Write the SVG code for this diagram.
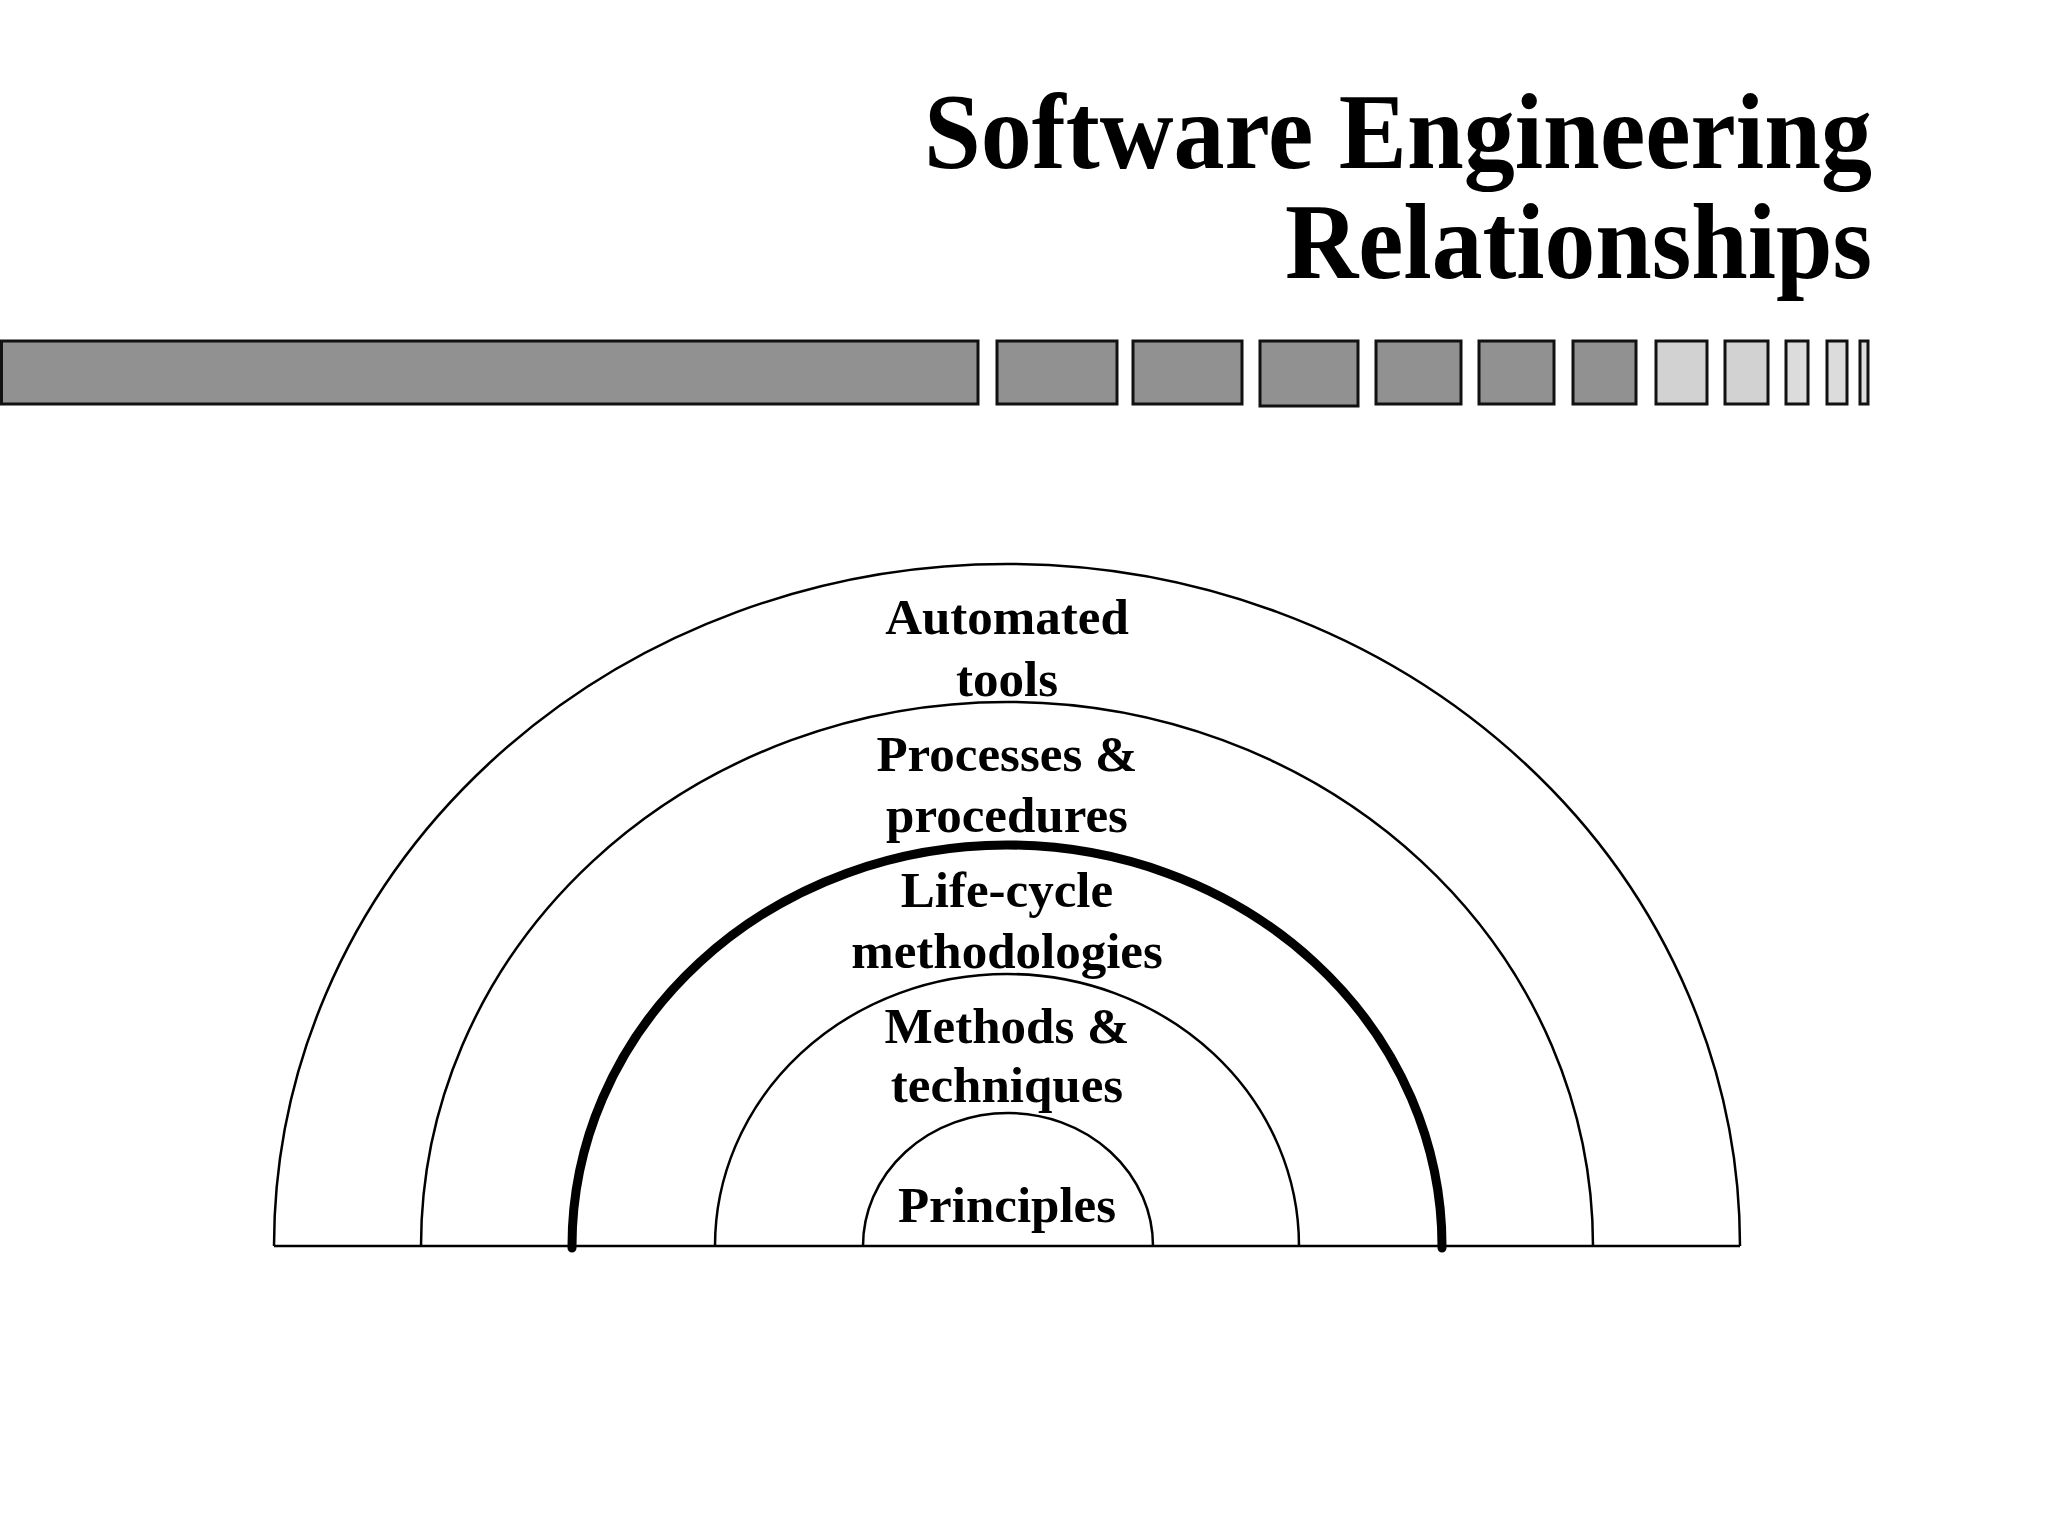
<svg xmlns="http://www.w3.org/2000/svg" width="2048" height="1536" viewBox="0 0 2048 1536">
<style>
.title{font-family:"Liberation Serif","Times New Roman",serif;font-weight:bold;font-size:107px;fill:#000;text-anchor:end}
.lbl{font-family:"Liberation Serif","Times New Roman",serif;font-weight:bold;font-size:51px;fill:#000;text-anchor:middle}
.dk{fill:#919191;stroke:#111;stroke-width:3}
.lt{fill:#d2d2d2;stroke:#111;stroke-width:3}
.lt2{fill:#dcdcdc;stroke:#111;stroke-width:3}
.arc{fill:none;stroke:#000;stroke-width:2.5}
.thick{fill:none;stroke:#000;stroke-width:9;stroke-linecap:round}
</style>
<rect width="2048" height="1536" fill="#fff"/>
<g id="title">
<text class="title" x="1872" y="168" textLength="948" lengthAdjust="spacingAndGlyphs">Software Engineering</text>
<text class="title" x="1872" y="278" textLength="587" lengthAdjust="spacingAndGlyphs">Relationships</text>
</g>
<g id="bar">
<rect class="dk" x="1.5" y="341" width="976.5" height="63"/>
<rect class="dk" x="997" y="341" width="120" height="63"/>
<rect class="dk" x="1133" y="341" width="109" height="63"/>
<rect class="dk" x="1260" y="341" width="98" height="65"/>
<rect class="dk" x="1376" y="341" width="85" height="63"/>
<rect class="dk" x="1479" y="341" width="75" height="63"/>
<rect class="dk" x="1573" y="341" width="63" height="63"/>
<rect class="lt" x="1656" y="341" width="51" height="63"/>
<rect class="lt" x="1725" y="341" width="43" height="63"/>
<rect class="lt2" x="1786" y="341" width="22" height="63"/>
<rect class="lt2" x="1827" y="341" width="20" height="63"/>
<rect class="lt2" x="1860" y="341" width="8" height="63"/>
</g>
<g id="connectors">
<line class="arc" x1="274" y1="1246" x2="1740" y2="1246"/>
</g>
<g id="automated-tools">
<path class="arc" d="M274,1246 A733,682 0 0 1 1740,1246"/>
<text class="lbl" x="1007" y="634">Automated</text>
<text class="lbl" x="1007" y="696">tools</text>
</g>
<g id="processes-procedures">
<path class="arc" d="M421,1246 A586,544 0 0 1 1593,1246"/>
<text class="lbl" x="1007" y="771">Processes &amp;</text>
<text class="lbl" x="1007" y="832">procedures</text>
</g>
<g id="life-cycle-methodologies">
<path class="thick" d="M572,1248 L572,1246 A435,401 0 0 1 1442,1246 L1442,1248"/>
<text class="lbl" x="1007" y="907">Life-cycle</text>
<text class="lbl" x="1007" y="968">methodologies</text>
</g>
<g id="methods-techniques">
<path class="arc" d="M715,1246 A292,272 0 0 1 1299,1246"/>
<text class="lbl" x="1007" y="1043">Methods &amp;</text>
<text class="lbl" x="1007" y="1102">techniques</text>
</g>
<g id="principles">
<path class="arc" d="M863,1246 A145,133 0 0 1 1153,1246"/>
<text class="lbl" x="1007" y="1222">Principles</text>
</g>
</svg>
